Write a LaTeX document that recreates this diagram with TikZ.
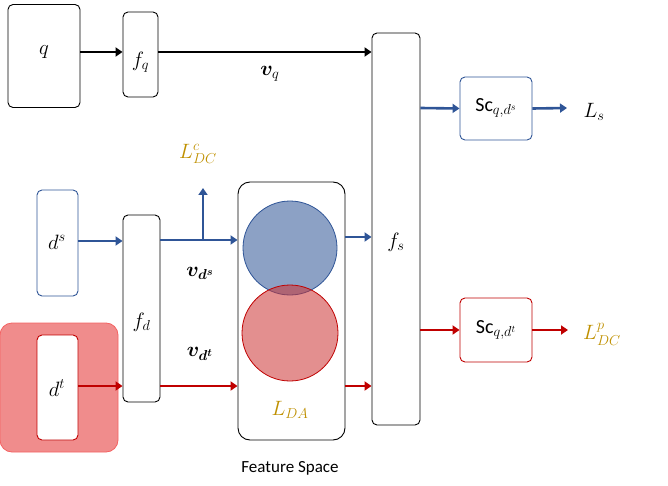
\documentclass[tikz,border=0pt]{standalone}
\usepackage{amsmath,bm}
\usepackage{fontspec}
\newfontfamily\carl{Carlito}
\usetikzlibrary{arrows.meta}
\definecolor{bl}{RGB}{47,85,151}
\definecolor{rd}{RGB}{192,0,0}
\definecolor{gd}{RGB}{191,144,0}
\definecolor{rfill}{RGB}{240,140,140}
\begin{document}
\begin{tikzpicture}[x=1pt,y=-1pt,
 box/.style={draw=black,line width=0.9pt,rounded corners=5pt,fill=white},
 arr/.style={line width=2.6pt,-{Triangle[length=7pt,width=9pt]}},
 lab/.style={font=\fontsize{22}{24}\selectfont}]
\useasboundingbox (0,0) rectangle (668,486);
% boxes
\node[box,minimum width=72pt,minimum height=103pt] (q) at (44,56) {};
\node[lab] at (44,52) {$q$};
\node[box,minimum width=35pt,minimum height=85pt] (fq) at (140.5,54.5) {};
\node[lab] at (140.5,62) {$f_q$};
\node[box,minimum width=48pt,minimum height=392pt] (fs) at (396,229) {};
\node[lab] at (396,242) {$f_s$};
\node[box,draw=bl,minimum width=72pt,minimum height=63pt] (scs) at (496,108.5) {};
\node[font=\carl\fontsize{20}{22}\selectfont] at (496,108) {Sc$_{q,d^s}$};
\node[box,draw=rd,minimum width=72pt,minimum height=64pt] (sct) at (496,330) {};
\node[font=\carl\fontsize{20}{22}\selectfont] at (496,330) {Sc$_{q,d^t}$};
\node[box,draw=bl,minimum width=41pt,minimum height=106pt] (ds) at (57.5,243) {};
\node[lab] at (57,242) {$d^s$};
\node[draw=rfill!70!red,fill=rfill,rounded corners=12pt,minimum width=118pt,minimum height=129pt,line width=0.8pt] (dtbg) at (59,387.5) {};
\node[box,draw=rd,minimum width=41pt,minimum height=105pt] (dt) at (57.5,387.5) {};
\node[lab] at (57,388) {$d^t$};
\node[box,minimum width=37pt,minimum height=187pt] (fd) at (141.5,308.5) {};
\node[lab] at (141.5,322) {$f_d$};
\node[box,rounded corners=12pt,minimum width=107pt,minimum height=258pt] (fsp) at (291.5,311) {};
\fill[bl,opacity=0.55] (290,248) circle (47);
\draw[bl,line width=0.8pt] (290,248) circle (47);
\fill[rd!80!white,opacity=0.55] (290,333) circle (48);
\draw[rd,line width=0.8pt] (290,333) circle (48);
\node[lab,text=gd] at (290,410) {$L_{DA}$};
\node[font=\carl\fontsize{17}{19}\selectfont] (fslab) at (290,468) {Feature Space};
% arrows
\draw[arr] (q.east |- 0,52) -- (fq.west |- 0,52);
\draw[arr] (fq.east |- 0,52) -- (fs.west |- 0,52);
\node[lab] at (270,74) {$\bm{v}_q$};
\draw[arr,bl] (fs.east |- 0,108) -- (scs.west);
\draw[arr,bl] (scs.east) -- (567,108);
\node[lab] (ls) at (594,112) {$L_s$};
\draw[arr,bl] (ds.east |- 0,241) -- (fd.west |- 0,241);
\draw[arr,bl] (fd.east |- 0,240) -- (fsp.west |- 0,240);
\coordinate (br) at (203,240);
\draw[arr,bl] (br) -- (203,188);
\node[lab,text=gd] at (198,154) {$L^{c}_{DC}$};
\node[lab] at (200,273) {$\bm{v}_{\bm{d^s}}$};
\draw[arr,rd] (dt.east |- 0,386) -- (fd.west |- 0,386);
\draw[arr,rd] (fd.east |- 0,386) -- (fsp.west |- 0,386);
\node[lab] at (200,354) {$\bm{v}_{\bm{d^t}}$};
\draw[arr,bl] (fsp.east |- 0,237) -- (fs.west |- 0,237);
\draw[arr,rd] (fsp.east |- 0,386) -- (fs.west |- 0,386);
\draw[arr,rd] (fs.east |- 0,330) -- (sct.west);
\draw[arr,rd] (sct.east) -- (568,330);
\node[lab,text=gd] at (602,334) {$L^{p}_{DC}$};
\end{tikzpicture}
\end{document}
